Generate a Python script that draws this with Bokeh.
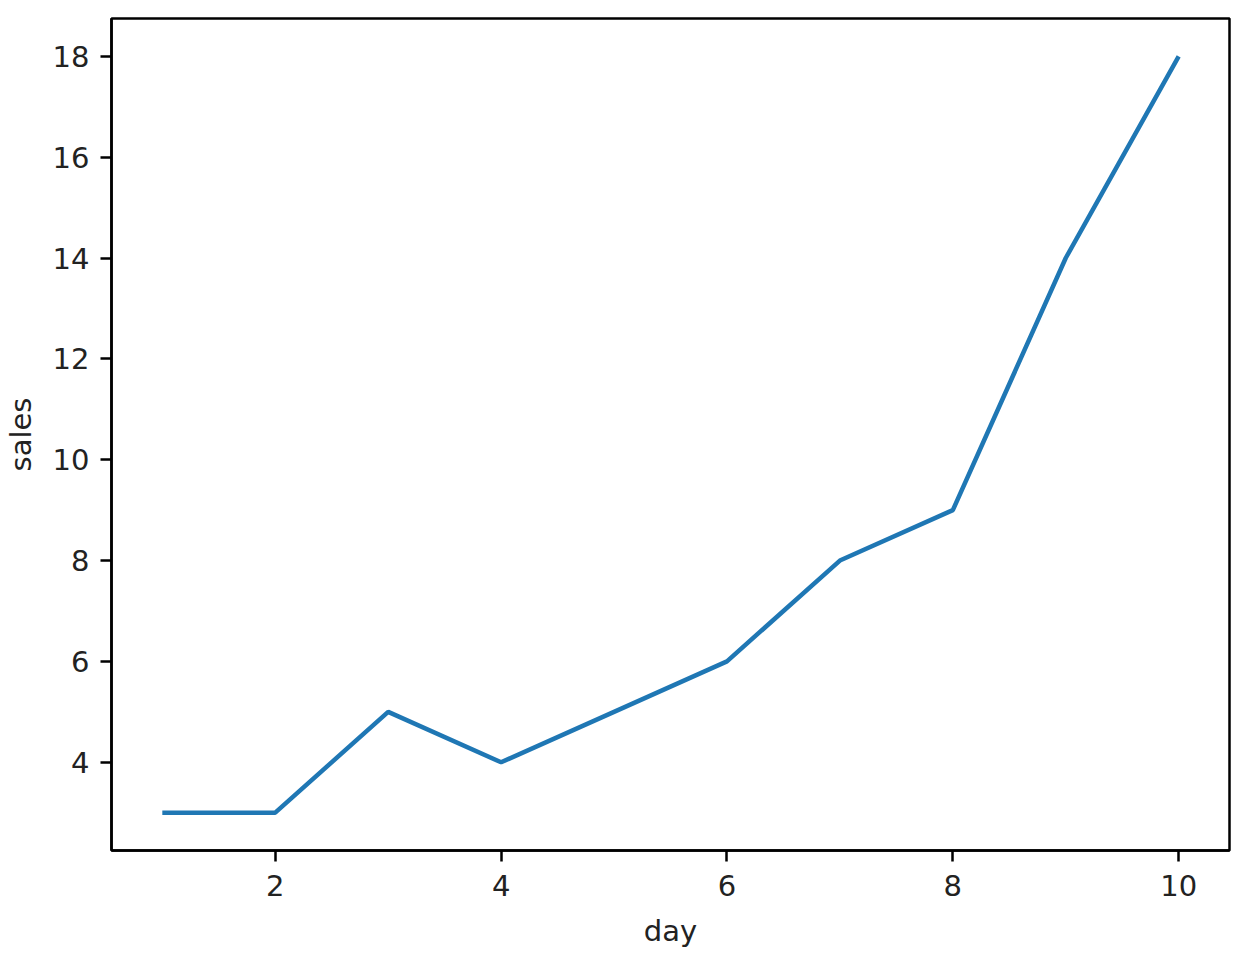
from bokeh.plotting import figure
from bokeh.models import FixedTicker, Range1d
from bokeh.embed import file_html
from bokeh.resources import INLINE

day = [1, 2, 3, 4, 5, 6, 7, 8, 9, 10]
sales = [3, 3, 5, 4, 5, 6, 8, 9, 14, 18]
x_ticks = [2, 4, 6, 8, 10]
y_ticks = [4, 6, 8, 10, 12, 14, 16, 18]

p = figure(width=1235, height=950, output_backend="svg", toolbar_location=None,
           x_range=Range1d(0.55, 10.45), y_range=Range1d(2.25, 18.75),
           min_border_left=109, min_border_top=18, min_border_right=6, min_border_bottom=99)
p.line(day, sales, line_color="#1f77b4", line_width=4.5)

p.grid.visible = False
p.outline_line_color = "black"
p.outline_line_width = 2.5
p.background_fill_color = "white"
p.border_fill_color = "white"

p.xaxis.ticker = FixedTicker(ticks=x_ticks)
p.yaxis.ticker = FixedTicker(ticks=y_ticks)
p.xaxis.axis_label = "day"
p.yaxis.axis_label = "sales"
for ax in [p.xaxis, p.yaxis]:
    ax.axis_line_color = "black"
    ax.axis_line_width = 2.5
    ax.major_tick_out = 11
    ax.major_tick_in = 0
    ax.major_tick_line_width = 2.5
    ax.minor_tick_line_color = None
    ax.major_label_text_font = "DejaVu Sans"
    ax.major_label_text_font_size = "29px"
    ax.major_label_text_color = "#222222"
    ax.axis_label_text_font = "DejaVu Sans"
    ax.axis_label_text_font_size = "29px"
    ax.axis_label_text_font_style = "normal"
    ax.axis_label_text_color = "#222222"
    ax.axis_label_standoff = 12
p.xaxis.major_label_standoff = 13
p.yaxis.major_label_standoff = 11
p.xaxis.axis_label_standoff = 15

open("out.html", "w").write(file_html(p, INLINE))
